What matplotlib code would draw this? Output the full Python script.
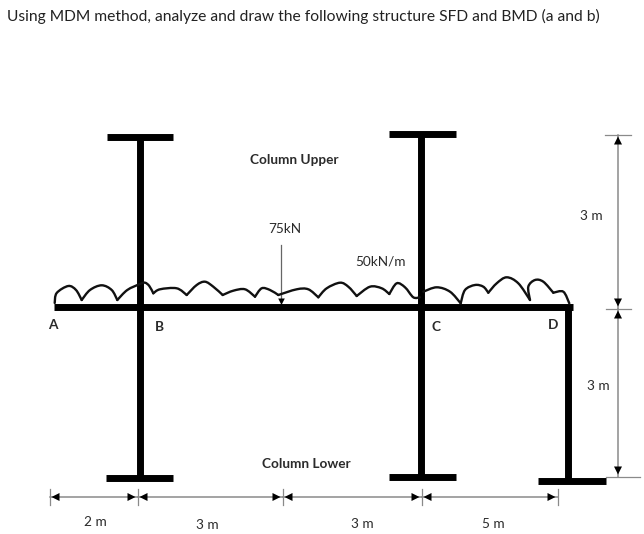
import numpy as np
import matplotlib
matplotlib.use("Agg")
import matplotlib.pyplot as plt
from matplotlib.path import Path
from matplotlib.patches import PathPatch, Polygon

plt.rcParams['font.family'] = ['Lato', 'DejaVu Sans']

TITLE = "Using MDM method, analyze and draw the following structure SFD and BMD (a and b)"
BEAM = [(54, 306.5), (573, 306.5)]
COLUMNS = [(140, 137, 478), (421.5, 134, 476), (568, 306, 480)]
FLANGES = [(107, 173, 136.5), (389, 456, 134), (106.5, 173.5, 478), (389, 456, 477), (538, 606, 480.5)]
DIM_Y = 497
DIM_TICKS_X = [50, 138, 283, 422, 558]
DIM_RIGHT_X = 618
DIM_TICKS_Y = [135, 309, 477]
LOAD_ARROW = (281.5, 245, 305)

LABELS = [
    ("A", 53, 325, True), ("B", 159, 327, True), ("C", 436, 327, True), ("D", 553, 325, True),
    ("Column Upper", 294, 160, True), ("Column Lower", 306, 464, True),
    ("75kN", 285, 229, False), ("50kN/m", 381, 262, False),
    ("2 m", 95, 522, False), ("3 m", 207, 525, False), ("3 m", 362, 524, False), ("5 m", 493, 524, False),
    ("3 m", 591, 216, False), ("3 m", 598, 386, False),
]

CLOUD = [
    [(54.7,303),(56.7,293),(68.3,286),(76,290),(81.7,300)],
    [(81.7,300),(90,290),(101.7,285.3),(111.7,290),(117.3,300)],
    [(117.3,300),(127.3,290),(140,284),(145,282.7),(149.3,286),(153.3,293.3)],
    [(153.3,293.3),(160,289.3),(176.7,288.3),(186.7,295)],
    [(186.7,295),(196.7,285),(205,281.7),(213.3,286.7),(222.7,295)],
    [(222.7,295),(233.3,290.7),(245,289.3),(255,296.7)],
    [(255,296.7),(261.7,288.3),(270,290),(278.3,295)],
    [(278.3,295),(296.7,289.3),(308.3,289.3),(318.3,297.3)],
    [(318.3,297.3),(326.7,288.3),(340,282.7),(348.3,286.7),(356.7,296)],
    [(356.7,296),(370,286.7),(381.7,288.3),(389.3,294)],
    [(389.3,294),(396.7,283.3),(405,287.3),(413.3,297.3),(420,297.3)],
    [(423.3,291.7),(436.7,287.3),(450,291.7),(460.7,303.3)],
    [(460.7,303.3),(465,290),(475,285),(483.3,286.7),(488.3,292.7)],
    [(488.3,292.7),(496.7,283.3),(506.7,277.3),(518.3,283.3),(530,300)],
    [(530,300),(528.3,286.7),(535,280),(543.3,281.7),(553.3,292.7)],
    [(553.3,292.7),(563.3,291.7),(569.3,303.3)],
]

TEXT_COLOR = "#2b2b2b"
DIM_COLOR = "#8a8a8a"

fig = plt.figure(figsize=(6.44, 5.34), dpi=100)
ax = fig.add_axes([0, 0, 1, 1])
ax.set_xlim(0, 644)
ax.set_ylim(534, 0)
ax.axis("off")


def smooth(points):
    verts = [points[0]]
    codes = [Path.MOVETO]
    p = np.array(points, dtype=float)
    for i in range(len(p) - 1):
        prev_pt = p[max(i - 1, 0)]
        next_pt = p[min(i + 2, len(p) - 1)]
        c1 = p[i] + (p[i + 1] - prev_pt) / 6
        c2 = p[i + 1] - (next_pt - p[i]) / 6
        verts += [tuple(c1), tuple(c2), tuple(p[i + 1])]
        codes += [Path.CURVE4] * 3
    return Path(verts, codes)


def head(x, y, dx, dy, size=8, half=4.0):
    """Arrowhead with its tip at (x, y) pointing along (dx, dy)."""
    base = (x - dx * size, y - dy * size)
    pts = [(x, y), (base[0] - dy * half, base[1] - dx * half), (base[0] + dy * half, base[1] + dx * half)]
    ax.add_patch(Polygon(pts, closed=True, fc="black", ec="none", zorder=4))


# Structure
ax.plot(*zip(*BEAM), color="black", lw=5.0, solid_capstyle="butt", zorder=3)
for x, y0, y1 in COLUMNS:
    ax.plot([x, x], [y0, y1], color="black", lw=5.0, solid_capstyle="butt", zorder=3)
for x0, x1, y in FLANGES:
    ax.plot([x0, x1], [y, y], color="black", lw=5.0, solid_capstyle="butt", zorder=3)

# Distributed load
for seg in CLOUD:
    ax.add_patch(PathPatch(smooth(seg), fc="none", ec="#111111", lw=1.7, capstyle="round", zorder=5))

# Point load
x, y0, y1 = LOAD_ARROW
ax.plot([x, x], [y0, y1 - 4], color="#666666", lw=0.9, zorder=4)
head(x, y1, 0, 1, size=6.5, half=3.3)

# Horizontal dimensions
for xa, xb in zip(DIM_TICKS_X[:-1], DIM_TICKS_X[1:]):
    ax.plot([xa, xb], [DIM_Y, DIM_Y], color=DIM_COLOR, lw=1.1, zorder=2)
    head(xa + 1.5, DIM_Y, -1, 0)
    head(xb - 2.5, DIM_Y, 1, 0)
for xt in DIM_TICKS_X:
    ax.plot([xt, xt], [DIM_Y - 8, DIM_Y + 8], color=DIM_COLOR, lw=0.9, zorder=2)

# Vertical dimensions
for ya, yb in zip(DIM_TICKS_Y[:-1], DIM_TICKS_Y[1:]):
    ax.plot([DIM_RIGHT_X, DIM_RIGHT_X], [ya, yb], color=DIM_COLOR, lw=1.1, zorder=2)
    head(DIM_RIGHT_X, ya + 1.5, 0, -1)
    head(DIM_RIGHT_X, yb - 2.5, 0, 1)
ax.plot([605, 631], [DIM_TICKS_Y[0]] * 2, color=DIM_COLOR, lw=0.9)
ax.plot([606, 631], [DIM_TICKS_Y[1]] * 2, color=DIM_COLOR, lw=0.9)
ax.plot([606, 640], [DIM_TICKS_Y[2]] * 2, color=DIM_COLOR, lw=0.9)

# Text
ax.text(7, 16, TITLE, fontsize=11.25, color="#222222", ha="left", va="center")
for s, lx, ly, bold in LABELS:
    ax.text(lx, ly, s, fontsize=9.8, color=TEXT_COLOR, ha="center", va="center",
            fontweight="bold" if bold else "normal")

fig.savefig("out.png", dpi=100)
